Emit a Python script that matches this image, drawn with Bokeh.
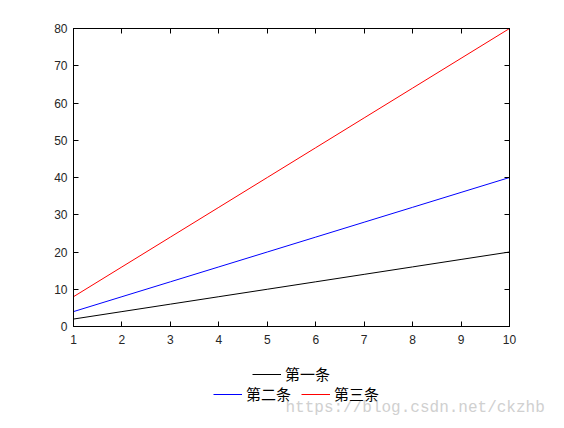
import numpy as np
from bokeh.plotting import figure
from bokeh.layouts import column
from bokeh.models import Label, Legend, LegendItem, LinearAxis, FixedTicker, Range1d
from bokeh.embed import file_html
from bokeh.resources import INLINE

# data
x = [1, 2, 3, 4, 5, 6, 7, 8, 9, 10]
y1 = [2, 4, 6, 8, 10, 12, 14, 16, 18, 20]
y2 = [4, 8, 12, 16, 20, 24, 28, 32, 36, 40]
y3 = [8, 16, 24, 32, 40, 48, 56, 64, 72, 80]
names = ["第一条", "第二条", "第三条"]
colors = ["black", "#0000ff", "#ff0000"]
x_ticks = [1, 2, 3, 4, 5, 6, 7, 8, 9, 10]
y_ticks = [0, 10, 20, 30, 40, 50, 60, 70, 80]

cjk = "Noto Sans CJK SC"

# main plot
p = figure(width=556, height=356, output_backend="svg", toolbar_location=None,
           x_range=Range1d(1, 10), y_range=Range1d(0, 80),
           x_axis_type=None, y_axis_type=None,
           min_border_left=73, min_border_right=47, min_border_top=28, min_border_bottom=30)
p.xgrid.visible = False
p.ygrid.visible = False
p.outline_line_color = "black"
p.outline_line_width = 1
p.background_fill_color = "white"
p.frame_align = False

# axes, matlab style ticks inside on all four sides
def make_axis(ticks, show_labels, standoff):
    ax = LinearAxis(ticker=FixedTicker(ticks=ticks))
    ax.major_tick_in = 5
    ax.major_tick_out = 0
    ax.minor_tick_in = 0
    ax.minor_tick_out = 0
    ax.axis_line_color = "black"
    ax.major_tick_line_color = "black"
    ax.major_label_text_font = "Liberation Sans"
    ax.major_label_text_font_size = "12px"
    ax.major_label_text_color = "#262626" if show_labels else None
    ax.major_label_standoff = standoff
    return ax

p.add_layout(make_axis(x_ticks, True, 8), "below")
p.add_layout(make_axis(y_ticks, True, 6), "left")
p.add_layout(make_axis(x_ticks, False, 0), "above")
p.add_layout(make_axis(y_ticks, False, 0), "right")

p.line(x, y1, line_color=colors[0], line_width=1)
p.line(x, y2, line_color=colors[1], line_width=1)
p.line(x, y3, line_color=colors[2], line_width=1)

# strip under the plot for the legend and the watermark
q = figure(width=556, height=64, output_backend="svg", toolbar_location=None,
           x_range=Range1d(0, 1), y_range=Range1d(0, 1),
           x_axis_type=None, y_axis_type=None, min_border=0)
q.xgrid.visible = False
q.ygrid.visible = False
q.outline_line_color = None
q.frame_align = False

# legend swatches only (nan point, nothing drawn)
k1 = q.line(x=[np.nan], y=[np.nan], line_color=colors[0], line_width=1)
k2 = q.line(x=[np.nan], y=[np.nan], line_color=colors[1], line_width=1)
k3 = q.line(x=[np.nan], y=[np.nan], line_color=colors[2], line_width=1)

def style_legend(lg):
    lg.padding = 0
    lg.margin = 0
    lg.spacing = 10
    lg.border_line_alpha = 0
    lg.background_fill_alpha = 0
    lg.glyph_width = 29
    lg.glyph_height = 16
    lg.label_height = 16
    lg.label_standoff = 4
    lg.label_text_font = cjk
    lg.label_text_font_size = "15px"
    lg.label_text_color = "black"

leg1 = Legend(items=[LegendItem(label=names[0], renderers=[k1])], location=(252, 36))
leg2 = Legend(items=[LegendItem(label=names[1], renderers=[k2]),
                     LegendItem(label=names[2], renderers=[k3])],
              location=(213, 16), orientation="horizontal")
style_legend(leg1)
style_legend(leg2)
q.add_layout(leg1)
q.add_layout(leg2)

# watermark
wm = Label(x=285, y=13, x_units="screen", y_units="screen",
           text="https://blog.csdn.net/ckzhb", text_font="Liberation Mono",
           text_font_size="16px", text_color="#d0d0d0", text_baseline="middle")
q.add_layout(wm)

layout = column(p, q, spacing=0)
open("out.html", "w").write(file_html(layout, INLINE))
